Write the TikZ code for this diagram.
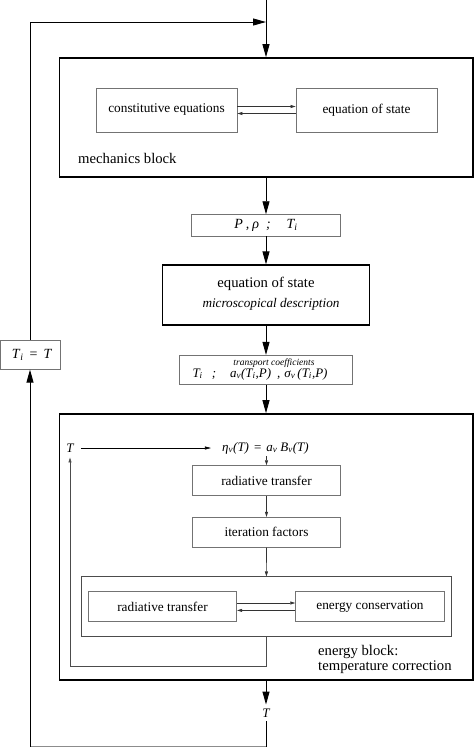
\documentclass[tikz,border=0pt]{standalone}
\usepackage{fontspec}
\setmainfont{Liberation Serif}
\usetikzlibrary{arrows.meta}
\newcommand\tsub[1]{\textsubscript{#1}}
\begin{document}
\begin{tikzpicture}[x=1pt,y=-1pt, font=\fontsize{13.3}{15}\selectfont,
 thickbox/.style={draw=black, line width=1.6pt, inner sep=0pt},
 midbox/.style={draw=black, line width=1.2pt, inner sep=0pt},
 graybox/.style={draw=black!55, line width=0.8pt, inner sep=0pt},
 bigarrow/.style={line width=0.9pt, -{Triangle[length=13pt,width=7pt]}},
 smallarrow/.style={line width=0.6pt, draw=black!80, -{Triangle[length=5pt,width=3pt]}},
 thinline/.style={line width=0.6pt, draw=black!70},
 biglabel/.style={font=\fontsize{14.7}{16}\selectfont, inner sep=0pt}]
\useasboundingbox (0,0) rectangle (474,748);

% mechanics block
\node[thickbox, minimum width=413.4pt, minimum height=119pt] (mech) at (266,117.5) {};
\node[graybox, minimum width=141pt, minimum height=44pt] (ce) at (166.5,110) {constitutive equations};
\node[graybox, minimum width=141pt, minimum height=44pt] (eos1) at (366.5,110) {equation of state};
\node[biglabel, anchor=base west] (mechlab) at (78,163) {mechanics block};

% P box
\node[graybox, minimum width=149pt, minimum height=21.3pt, font=\fontsize{14}{15}\selectfont\itshape] (pbox) at (266,225.3)
  {P\hspace{3pt},\hspace{3pt}ρ\hspace{7pt};\hspace{16pt}T\tsub{i}};

% equation of state box
\node[midbox, minimum width=207pt, minimum height=60pt] (eos2) at (266,295) {};
\node[biglabel] (eos2a) at (266,284) {equation of state};
\node[font=\fontsize{13.2}{15}\selectfont\itshape, inner sep=0pt] (eos2b) at (271,304) {microscopical description};

% transport box
\node[graybox, minimum width=173pt, minimum height=29pt] (tbox) at (266,369.8) {};
\node[font=\fontsize{9.5}{10}\selectfont\itshape, inner sep=0pt] (tboxa) at (274,363.5) {transport coefficients};
\node[font=\fontsize{13}{14}\selectfont\itshape, anchor=base west, inner sep=0pt] (tboxb) at (192.3,377)
  {T\tsub{i}\hspace{9pt};\hspace{14pt}a\tsub{ν}(T\tsub{i},P)\hspace{6pt},\hspace{4pt}σ\tsub{ν}\hspace{2pt}(T\tsub{i},P)};

% Ti = T box
\node[graybox, minimum width=60pt, minimum height=29.3pt, font=\fontsize{14}{15}\selectfont] (ti) at (30,354.6)
  {\hspace{4pt}\textit{T}\tsub{\textit{i}}\hspace{6pt}=\hspace{6pt}\textit{T}};

% energy block
\node[thickbox, minimum width=413.4pt, minimum height=266pt] (energy) at (266,547) {};
\node[inner xsep=7pt, inner ysep=5pt, font=\fontsize{13}{14}\selectfont\itshape] (tin) at (70,448) {T};
\node[inner sep=0pt, font=\fontsize{13}{14}\selectfont] (eta) at (265.5,448)
  {\textit{η}\tsub{\textit{ν}}\textit{(T)}\hspace{5pt}=\hspace{5pt}\textit{a}\tsub{\textit{ν}}\hspace{3pt}\textit{B}\tsub{\textit{ν}}\textit{(T)}};
\node[graybox, minimum width=148.4pt, minimum height=30pt] (rt1) at (266.5,480.7) {radiative transfer};
\node[graybox, minimum width=148.4pt, minimum height=30pt] (itf) at (266.5,532.3) {iteration factors};
\node[draw=black!70, line width=1pt, inner sep=0pt, minimum width=370.7pt, minimum height=59.7pt] (inner) at (266.4,606.8) {};
\node[graybox, minimum width=148.4pt, minimum height=30pt] (rt2) at (162.5,606.7) {radiative transfer};
\node[graybox, minimum width=148.6pt, minimum height=30pt] (ec) at (370,606.7) {energy conservation};
\node[biglabel, anchor=base west] (elab1) at (318,655) {energy block:};
\node[biglabel, anchor=base west] (elab2) at (318,670) {temperature correction};

% output T
\node[inner sep=4pt, font=\fontsize{13}{14}\selectfont\itshape] (tout) at (266,713) {T};

% connectors
\coordinate (top) at (266,0);
\coordinate (fb) at (266,22);
\coordinate (bc) at (266,746.5);
\coordinate (bl) at (30,746.5);
\coordinate (fb2) at (266.4,666);
\coordinate (fb3) at (70,666);

\draw[bigarrow] (top) -- (mech.north);
\draw[bigarrow] (ti.north) |- (fb);
\draw[smallarrow] ([yshift=3.5pt]ce.east) -- ([yshift=3.5pt]eos1.west);
\draw[smallarrow] ([yshift=-3.5pt]eos1.west) -- ([yshift=-3.5pt]ce.east);
\draw[bigarrow] (mech.south) -- (pbox.north);
\draw[bigarrow] (pbox.south) -- (eos2.north);
\draw[bigarrow] (eos2.south) -- (tbox.north);
\draw[bigarrow] (tbox.south) -- (energy.north);

\draw[line width=0.6pt, -{Triangle[length=6pt,width=3pt]}] (tin.east) -- ([xshift=-11pt]eta.west);
\draw[smallarrow, shorten <=2pt] (eta.south -| rt1.north) -- (rt1.north);
\draw[smallarrow] (rt1.south) -- (itf.north);
\draw[smallarrow] (itf.south) -- (inner.north);
\draw[smallarrow] ([yshift=3.7pt]rt2.east) -- ([yshift=3.7pt]ec.west);
\draw[smallarrow] ([yshift=-3.7pt]ec.west) -- ([yshift=-3.7pt]rt2.east);
\draw[thinline] (inner.south) -- (fb2) -- (fb3);
\draw[smallarrow, draw=black!70] (fb3) -- (tin.south);

\draw[bigarrow] (energy.south) -- (tout.north);
\draw[line width=0.9pt] (tout.south) -- (bc);
\draw[draw=black!45, line width=1.3pt] (bc) -- (bl);
\draw[bigarrow] (bl) -- (ti.south);
\end{tikzpicture}
\end{document}
